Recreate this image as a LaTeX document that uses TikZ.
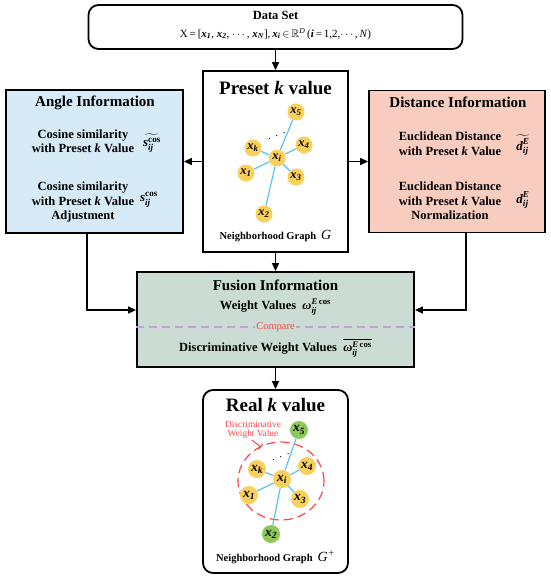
\documentclass[tikz,border=0pt]{standalone}
\usepackage{amsmath,amssymb}
\usepackage{fontspec}
\setmainfont{Liberation Serif}
\usetikzlibrary{arrows.meta,calc}
\definecolor{angleC}{RGB}{214,234,248}
\definecolor{distC}{RGB}{248,204,190}
\definecolor{fusionC}{RGB}{202,220,212}
\definecolor{nodeY}{RGB}{249,208,92}
\definecolor{greenC}{RGB}{141,200,90}
\definecolor{edgeC}{RGB}{80,192,240}
\definecolor{redC}{RGB}{255,70,70}
\definecolor{purpC}{RGB}{195,160,212}
\newcommand{\tbi}[1]{\text{\bfseries\itshape #1}}
\newcommand{\gx}[1]{\textbf{\textit{x}}\textsubscript{\textbf{\textit{#1}}}}
\begin{document}
\begin{tikzpicture}[x=1pt,y=-1pt,
 box/.style={draw=black, line width=1.8pt, inner sep=0pt},
 arr/.style={line width=1.5pt, -{Triangle[length=8pt,width=7pt]}},
 gnode/.style={circle, fill=nodeY, minimum size=17pt, inner sep=0pt, font=\fontsize{12.5}{12.5}\selectfont},
 gnodeR/.style={gnode, minimum size=18pt, font=\fontsize{13.5}{13.5}\selectfont},
 gnodeG/.style={gnodeR, fill=greenC},
 edge/.style={draw=edgeC, line width=1.1pt},
 txt/.style={inner sep=0pt, align=center, font=\fontsize{12.5}{14.5}\selectfont\bfseries},
 ttl/.style={inner sep=0pt, font=\fontsize{15}{15}\selectfont\bfseries},
 big/.style={inner sep=0pt, font=\fontsize{19}{19}\selectfont\bfseries},
 sym/.style={inner sep=0pt, font=\fontsize{13}{13}\selectfont\bfseries},
 ngr/.style={inner sep=0pt},
]
\useasboundingbox (0,0) rectangle (550,578);

% boxes
\node[box, rounded corners=10pt, fill=white, minimum width=374pt, minimum height=44pt] (data) at (275.5,27) {};
\node[box, fill=white, minimum width=145pt, minimum height=181pt] (preset) at (275.5,161.5) {};
\node[box, fill=angleC, minimum width=177pt, minimum height=143pt] (angle) at (94.5,161.5) {};
\node[box, fill=distC, minimum width=176pt, minimum height=142pt] (dist) at (457,161.5) {};
\node[box, fill=fusionC, minimum width=277pt, minimum height=95pt] (fusion) at (275.5,319.5) {};
\node[box, rounded corners=10pt, fill=white, minimum width=145pt, minimum height=183pt] (real) at (275.5,481.5) {};

% connectors
\coordinate (lcol) at (87,310);
\coordinate (rcol) at (466,310);
\draw[arr] (data.south) -- (preset.north);
\draw[arr] (preset.west) -- (angle.east);
\draw[arr] (preset.east) -- (dist.west);
\draw[arr] (preset.south) -- (fusion.north);
\draw[arr] (fusion.south) -- (real.north);
\draw[arr] (angle.south -| lcol) |- (fusion.west |- lcol);
\draw[arr] (dist.south -| rcol) |- (fusion.east |- rcol);

% data set
\node[inner sep=0pt, font=\fontsize{12.5}{12.5}\selectfont\bfseries] (dtitle) at (275.5,15) {Data Set};
\node[inner sep=0pt, font=\fontsize{11}{11}\selectfont] (dform) at (275.5,34) {X\,=\,[\gx{1}, \gx{2}, $\cdots$, \gx{N}],\,\gx{i}\,$\in$\,$\mathbb{R}$\textsuperscript{\textit{D}}\,(\textbf{\textit{i}}\,=\,1,2,$\cdots$,\,\textit{N})};

% angle information
\node[ttl] (atitle) at (95,103) {Angle Information};
\node[txt] (a1) at (83,141.5) {Cosine similarity\\with Preset \textit{k} Value};
\node[sym] (as1) at (152,143) {$\widetilde{\tbi{s}_{\tbi{ij}}^{\text{cos}}}$};
\node[txt] (a2) at (83,202) {Cosine similarity\\with Preset \textit{k} Value\\Adjustment};
\node[sym] (as2) at (149,200) {$\tbi{s}_{\tbi{ij}}^{\text{cos}}$};

% distance information
\node[ttl] (dstitle) at (458,102) {Distance Information};
\node[txt] (d1) at (450,144) {Euclidean Distance\\with Preset \textit{k} Value};
\node[sym] (ds1) at (523,145) {$\widetilde{\tbi{d}_{\tbi{ij}}^{\textit{E}}}$};
\node[txt] (d2) at (450,201) {Euclidean Distance\\with Preset \textit{k} Value\\Normalization};
\node[sym] (ds2) at (523,200) {$\tbi{d}_{\tbi{ij}}^{\textit{E}}$};

% preset graph
\node[big] (ptitle) at (275.5,88) {Preset \textit{k} value};
\node[gnode] (pi) at (277,158) {\gx{i}};
\node[gnode] (p5) at (296,112) {\gx{5}};
\node[gnode] (pk) at (253,148) {\gx{k}};
\node[gnode] (p4) at (304,145) {\gx{4}};
\node[gnode] (p1) at (246,173) {\gx{1}};
\node[gnode] (p3) at (296,177) {\gx{3}};
\node[gnode] (p2) at (264,214) {\gx{2}};
\foreach \n in {p5,pk,p4,p1,p3,p2} \draw[edge] (pi) -- (\n);
\node[inner sep=0pt, rotate=22, font=\fontsize{12}{12}\selectfont] (pdots) at (277,136) {$\cdot\,\cdot\,\cdot$};
\node[ngr] (pgr) at (275.5,236) {{\fontsize{10.5}{10.5}\selectfont\bfseries Neighborhood Graph}\ \ {\fontsize{14}{14}\selectfont\itshape G}};

% fusion
\node[ttl] (ftitle) at (275.5,285) {Fusion Information};
\node[txt] (fw) at (275.5,307) {Weight Values\ \ $\tbi{ω}_{\tbi{ij}}^{\textit{E}\,\text{cos}}$};
\coordinate (cmp) at (275.5,327);
\draw[purpC, line width=1.5pt, dash pattern=on 8pt off 5pt] (fusion.west |- cmp) -- (fusion.east |- cmp);
\node[fill=fusionC, text=redC, inner sep=1pt, font=\fontsize{10.5}{10.5}\selectfont] (cmpt) at (cmp) {Compare};
\node[txt] (fd) at (275.5,348) {Discriminative Weight Values\ \ $\overline{\tbi{ω}_{\tbi{ij}}^{\textit{E}\,\text{cos}}}$};

% real graph
\node[big] (rtitle) at (275.5,405) {Real \textit{k} value};
\draw[redC, line width=1.2pt, dash pattern=on 9pt off 5pt] (281,481) ellipse [x radius=43pt, y radius=39pt];
\node[gnodeR] (ri) at (282,479) {\gx{i}};
\node[gnodeG] (r5) at (299,430) {\gx{5}};
\node[gnodeR] (rk) at (257,469) {\gx{k}};
\node[gnodeR] (r4) at (307,466) {\gx{4}};
\node[gnodeR] (r1) at (249,495) {\gx{1}};
\node[gnodeR] (r3) at (300,499) {\gx{3}};
\node[gnodeG] (r2) at (271,534) {\gx{2}};
\foreach \n in {r5,rk,r4,r1,r3,r2} \draw[edge] (ri) -- (\n);
\node[inner sep=0pt, rotate=22, font=\fontsize{12}{12}\selectfont] (rdots) at (281,457) {$\cdot\,\cdot\,\cdot$};
\node[inner sep=0pt, align=center, text=redC, font=\fontsize{9.4}{9.6}\selectfont] (dlab) at (253,430) {Discriminative\\Weight Value};
\coordinate (ltip) at (261,447);
\draw[redC, line width=1pt, -{Bar[width=7pt,line width=1pt]}] (dlab.south) ++(-1,1) -- (ltip);
\node[ngr] (rgr) at (275.5,557) {{\fontsize{10.5}{10.5}\selectfont\bfseries Neighborhood Graph}\ \ {\fontsize{14}{14}\selectfont\itshape G\textsuperscript{+}}};
\end{tikzpicture}
\end{document}
